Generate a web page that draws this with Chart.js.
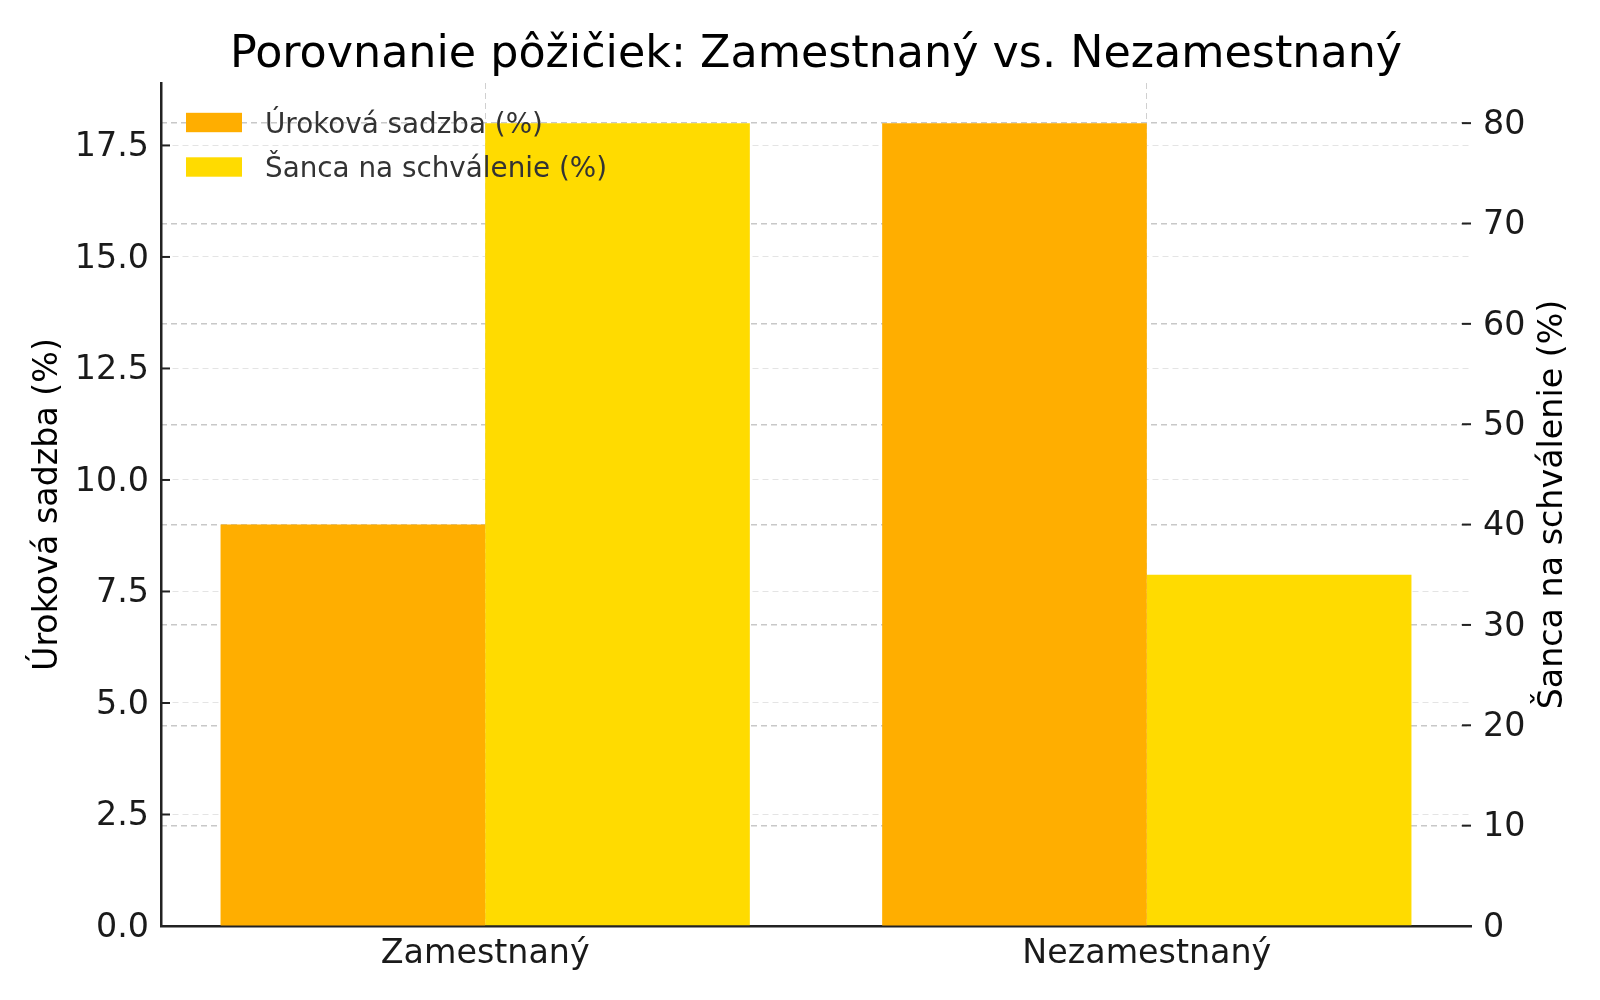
<!DOCTYPE html>
<html><head><meta charset="utf-8">
<script src="https://cdn.jsdelivr.net/npm/chart.js@4.4.0/dist/chart.umd.min.js"></script>
<style>html,body{margin:0;padding:0;background:#fff}#wrap{width:1600px;height:1000px}</style>
</head><body><div id="wrap"><canvas id="c" width="1600" height="1000"></canvas></div>
<script>
const categories = ['Zamestnaný', 'Nezamestnaný'];
const interestRate = [9, 18];
const approvalChance = [80, 35];
const seriesNames = ['Úroková sadzba (%)', 'Šanca na schválenie (%)'];
const seriesColors = ['#FFAE00', '#FFDB00'];
const leftTicks = [0, 2.5, 5, 7.5, 10, 12.5, 15, 17.5];
const rightTicks = [0, 10, 20, 30, 40, 50, 60, 70, 80];
const titleText = 'Porovnanie pôžičiek: Zamestnaný vs. Nezamestnaný';
const leftAxisTitle = 'Úroková sadzba (%)';
const rightAxisTitle = 'Šanca na schválenie (%)';
const leftMax = 18.9;
const rightMax = 84;
const xMin = -0.49;
const xMax = 1.49;

const FONT = '"DejaVu Sans", sans-serif';

const decor = {
  id: 'decor',
  afterDraw(chart) {
    const {ctx, chartArea: a, scales} = chart;
    ctx.save();
    // title
    ctx.fillStyle = '#000';
    ctx.font = '44.4px ' + FONT;
    ctx.textAlign = 'center';
    ctx.textBaseline = 'alphabetic';
    ctx.fillText(titleText, (a.left + a.right) / 2, 67);
    // axis titles (both read bottom to top)
    ctx.font = '33.3px ' + FONT;
    ctx.textBaseline = 'middle';
    const cy = (a.top + a.bottom) / 2;
    ctx.save(); ctx.translate(48, cy); ctx.rotate(-Math.PI / 2); ctx.fillText(leftAxisTitle, 0, 0); ctx.restore();
    ctx.save(); ctx.translate(1553, cy); ctx.rotate(-Math.PI / 2); ctx.fillText(rightAxisTitle, 0, 0); ctx.restore();
    // inward tick marks
    ctx.strokeStyle = '#222';
    ctx.lineWidth = 2;
    leftTicks.forEach(v => {
      const y = scales.y.getPixelForValue(v);
      ctx.beginPath(); ctx.moveTo(a.left, y); ctx.lineTo(a.left + 9, y); ctx.stroke();
    });
    rightTicks.forEach(v => {
      const y = scales.y1.getPixelForValue(v);
      ctx.beginPath(); ctx.moveTo(a.right - 9, y); ctx.lineTo(a.right, y); ctx.stroke();
    });
    // legend
    ctx.font = '27.8px ' + FONT;
    ctx.textAlign = 'left';
    chart.data.datasets.forEach((ds, i) => {
      const ly = 122.5 + i * 44.5;
      ctx.fillStyle = ds.backgroundColor;
      ctx.fillRect(186, ly - 9.7, 56, 19.4);
      ctx.fillStyle = '#333';
      ctx.fillText(ds.label, 265, ly + 3);
    });
    ctx.restore();
  }
};

const noZero = (col) => (c) => (c.tick && c.tick.value === 0) ? 'rgba(0,0,0,0)' : col;

new Chart(document.getElementById('c'), {
  type: 'bar',
  data: {
    datasets: [
      { label: seriesNames[0], data: categories.map((c, i) => ({ x: i, y: interestRate[i] })), backgroundColor: seriesColors[0], yAxisID: 'y', borderWidth: 0, categoryPercentage: 0.8, barPercentage: 1 },
      { label: seriesNames[1], data: categories.map((c, i) => ({ x: i, y: approvalChance[i] })), backgroundColor: seriesColors[1], yAxisID: 'y1', borderWidth: 0, categoryPercentage: 0.8, barPercentage: 1 }
    ]
  },
  options: {
    responsive: false,
    animation: false,
    devicePixelRatio: 1,
    layout: { padding: { top: 83, left: 0, right: 0, bottom: 0 } },
    plugins: { legend: { display: false }, tooltip: { enabled: false }, title: { display: false } },
    scales: {
      x: {
        type: 'linear',
        min: xMin,
        max: xMax,
        offset: false,
        z: 1,
        afterBuildTicks: (s) => { s.ticks = categories.map((c, i) => ({ value: i })); },
        grid: { offset: false, color: '#d0d0d0', lineWidth: 1, drawTicks: false },
        border: { display: true, color: '#222', width: 2.5, dash: [6, 4] },
        ticks: { font: { family: FONT, size: 33.3 }, color: '#1a1a1a', padding: 8, maxRotation: 0, autoSkip: false, callback: (v) => categories[Math.round(v)] },
        afterFit: (s) => { s.height = 74; }
      },
      y: {
        type: 'linear',
        position: 'left',
        min: 0,
        max: leftMax,
        z: 1,
        afterBuildTicks: (s) => { s.ticks = leftTicks.map(v => ({ value: v })); },
        ticks: { font: { family: FONT, size: 33.3 }, color: '#1a1a1a', padding: 12, labelOffset: 2, callback: (v) => Number(v).toFixed(1) },
        grid: { color: noZero('#e4e4e4'), lineWidth: 1, drawTicks: false },
        border: { display: true, color: '#222', width: 2.5, dash: [6, 4] },
        afterFit: (s) => { s.width = 161; }
      },
      y1: {
        type: 'linear',
        position: 'right',
        min: 0,
        max: rightMax,
        z: 1,
        afterBuildTicks: (s) => { s.ticks = rightTicks.map(v => ({ value: v })); },
        ticks: { font: { family: FONT, size: 33.3 }, color: '#1a1a1a', padding: 12, labelOffset: 2, callback: (v) => String(v) },
        grid: { color: noZero('#c8c8c8'), lineWidth: 1.4, drawTicks: false },
        border: { display: false, dash: [6, 4] },
        afterFit: (s) => { s.width = 129; }
      }
    }
  },
  plugins: [decor]
});
</script>
</body></html>
